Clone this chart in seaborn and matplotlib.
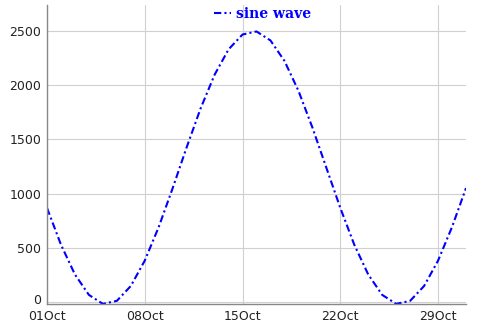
import matplotlib
matplotlib.use("Agg")
import matplotlib.pyplot as plt
import matplotlib.dates as mdates
import matplotlib.transforms as mtransforms
import seaborn as sns
import pandas as pd
import numpy as np

dates = pd.date_range("2024-10-01", "2024-10-31", freq="D")
values = [869, 530, 255, 67, -16, 12, 149, 383, 693, 1052,
          1428, 1787, 2097, 2331, 2468, 2496, 2413, 2225, 1950, 1611,
          1240, 869, 530, 255, 67, -16, 12, 149, 383, 693, 1052]
series_name = "sine wave"

df = pd.DataFrame({"date": dates, "value": values, "series": series_name})

sns.set_style("white")
plt.rcParams['font.family'] = ['DejaVu Sans']

fig = plt.figure(figsize=(4.87, 3.31), dpi=100)
ax = fig.add_axes([47/487, 27/331, (466-47)/487, (326-27)/331])

sns.lineplot(data=df, x="date", y="value", hue="series", palette=["#0000ff"],
             ax=ax, linewidth=1.5)
line = ax.get_lines()[0]
line.set_dashes([3.5, 1.5, 1, 1.5])

ax.set_xlim(dates[0], dates[-1])
ax.set_ylim(-17, 2740)
ax.set_yticks([0, 500, 1000, 1500, 2000, 2500])
ax.xaxis.set_major_locator(mdates.DayLocator(bymonthday=[1, 8, 15, 22, 29]))
ax.xaxis.set_major_formatter(mdates.DateFormatter("%d%b"))
ax.grid(True, color="#d0d0d0", linewidth=0.8)
ax.tick_params(axis="both", length=0, labelsize=9, colors="#222222")
ax.tick_params(axis="x", pad=4)
ax.tick_params(axis="y", pad=4)
ax.set_xlabel("")
ax.set_ylabel("")
for s in ["top", "right"]:
    ax.spines[s].set_visible(False)
for s in ["left", "bottom"]:
    ax.spines[s].set_color("#888888")
    ax.spines[s].set_linewidth(1)

fig.canvas.draw()
lbl0 = ax.get_yticklabels()[0]
lbl0.set_transform(lbl0.get_transform() + mtransforms.ScaledTranslation(0, 3/100, fig.dpi_scale_trans))

leg = ax.legend(loc="upper center", bbox_to_anchor=(0.515, 1.035), frameon=False,
                handlelength=1.2, handletextpad=0.4,
                prop={"family": "DejaVu Serif", "weight": "bold", "size": 10})
for t in leg.get_texts():
    t.set_color("#0000ff")
leg.get_lines()[0].set_dashes([3.5, 1.5, 1, 1.5])

fig.savefig("out.png", dpi=100)
